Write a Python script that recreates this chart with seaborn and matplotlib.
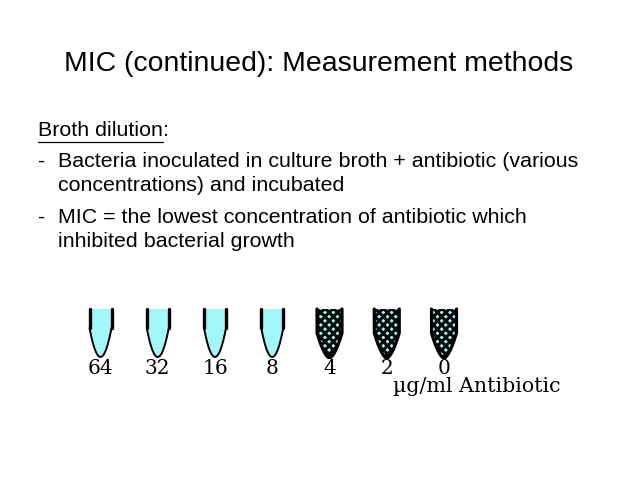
import numpy as np
import matplotlib
matplotlib.use("Agg")
import matplotlib.pyplot as plt
import seaborn as sns
from matplotlib.patches import Polygon
from matplotlib.lines import Line2D

# --- slide content ---
title = "MIC (continued): Measurement methods"
heading = "Broth dilution"
bullets = [
    ["Bacteria inoculated in culture broth + antibiotic (various",
     "concentrations) and incubated"],
    ["MIC = the lowest concentration of antibiotic which",
     "inhibited bacterial growth"],
]

# --- tube data ---
concentrations = ["64", "32", "16", "8", "4", "2", "0"]
growth = [False, False, False, False, True, True, True]
unit_label = "µg/ml Antibiotic"

W, H = 638, 479
sns.set_theme(style="white")
plt.rcParams["font.family"] = ["Liberation Sans", "DejaVu Sans"]
plt.rcParams["hatch.linewidth"] = 2.2

fig = plt.figure(figsize=(W / 100, H / 100), dpi=100)
fig.patch.set_facecolor("white")


def fx(px):
    return px / W


def fy(py):
    return 1 - py / H


body_size = 15.4

# title + text block
fig.text(0.5, fy(71), title, ha="center", va="baseline", fontsize=20.4, color="black")

head = fig.text(fx(38), fy(136), heading, ha="left", va="baseline", fontsize=body_size, color="black")
fig.canvas.draw()
bb = head.get_window_extent(fig.canvas.get_renderer())
fig.text(bb.x1 / W, fy(136), ":", ha="left", va="baseline", fontsize=body_size, color="black")
fig.add_artist(Line2D([bb.x0 / W, bb.x1 / W], [fy(142), fy(142)], color="black", lw=0.9))

y = 167
for lines in bullets:
    fig.text(fx(38), fy(y), "-", ha="left", va="baseline", fontsize=body_size, color="black")
    for ln in lines:
        fig.text(fx(58), fy(y), ln, ha="left", va="baseline", fontsize=body_size, color="black")
        y += 24
    y += 8

# --- tubes ---
first_px, last_px = 100.5, 444.0
step = (last_px - first_px) / (len(concentrations) - 1)
ax = fig.add_axes([fx(first_px - 0.5 * step), fy(359), 7 * step / W, 59 / H])
ax.set_xlim(-0.5, len(concentrations) - 0.5)
ax.set_ylim(359, 300)  # rows in pixels, top down
ax.set_facecolor("white")
sns.despine(ax=ax, left=True, bottom=True)
ax.set_yticks([])
ax.set_xticks(range(len(concentrations)), concentrations)
ax.tick_params(axis="x", length=0, pad=0)
for lab in ax.get_xticklabels():
    lab.set_fontfamily("DejaVu Serif")
    lab.set_fontsize(14.5)
    lab.set_color("black")

cyan = "#a2f7fb"
top = 309
for i, grown in enumerate(growth):
    half_px = 12.5 if grown else 11.0
    straight_end = 333 if grown else 328
    bottom = 358 if grown else 357
    p = 0.6 if grown else 0.5
    hw = half_px / step
    t = np.linspace(0, 1, 80)
    ys = straight_end + t * (bottom - straight_end)
    ws = hw * (1 - t) ** p
    left = np.column_stack([i - ws, ys])
    right = np.column_stack([i + ws[::-1], ys[::-1]])
    outline = np.vstack([[i - hw, top], left, right, [i + hw, top]])
    if grown:
        ax.add_patch(Polygon(outline, closed=True, facecolor=cyan, edgecolor="#0a0a0a",
                             hatch="xxxx", lw=0))
        ax.plot(outline[:, 0], outline[:, 1], color="black", lw=2.3, solid_joinstyle="round")
    else:
        ax.add_patch(Polygon(outline, closed=True, facecolor=cyan, edgecolor="none", lw=0))
        ax.plot([i - hw, i - hw], [top, straight_end], color="black", lw=2.4)
        ax.plot([i + hw, i + hw], [top, straight_end], color="black", lw=2.4)
        ax.plot(outline[1:-1, 0], outline[1:-1, 1], color="black", lw=1.4,
                solid_joinstyle="round")

fig.text(fx(477), fy(392), unit_label, ha="center", va="baseline",
         fontfamily="DejaVu Serif", fontsize=14.8, color="black")

fig.savefig("out.png", dpi=100, facecolor="white")
